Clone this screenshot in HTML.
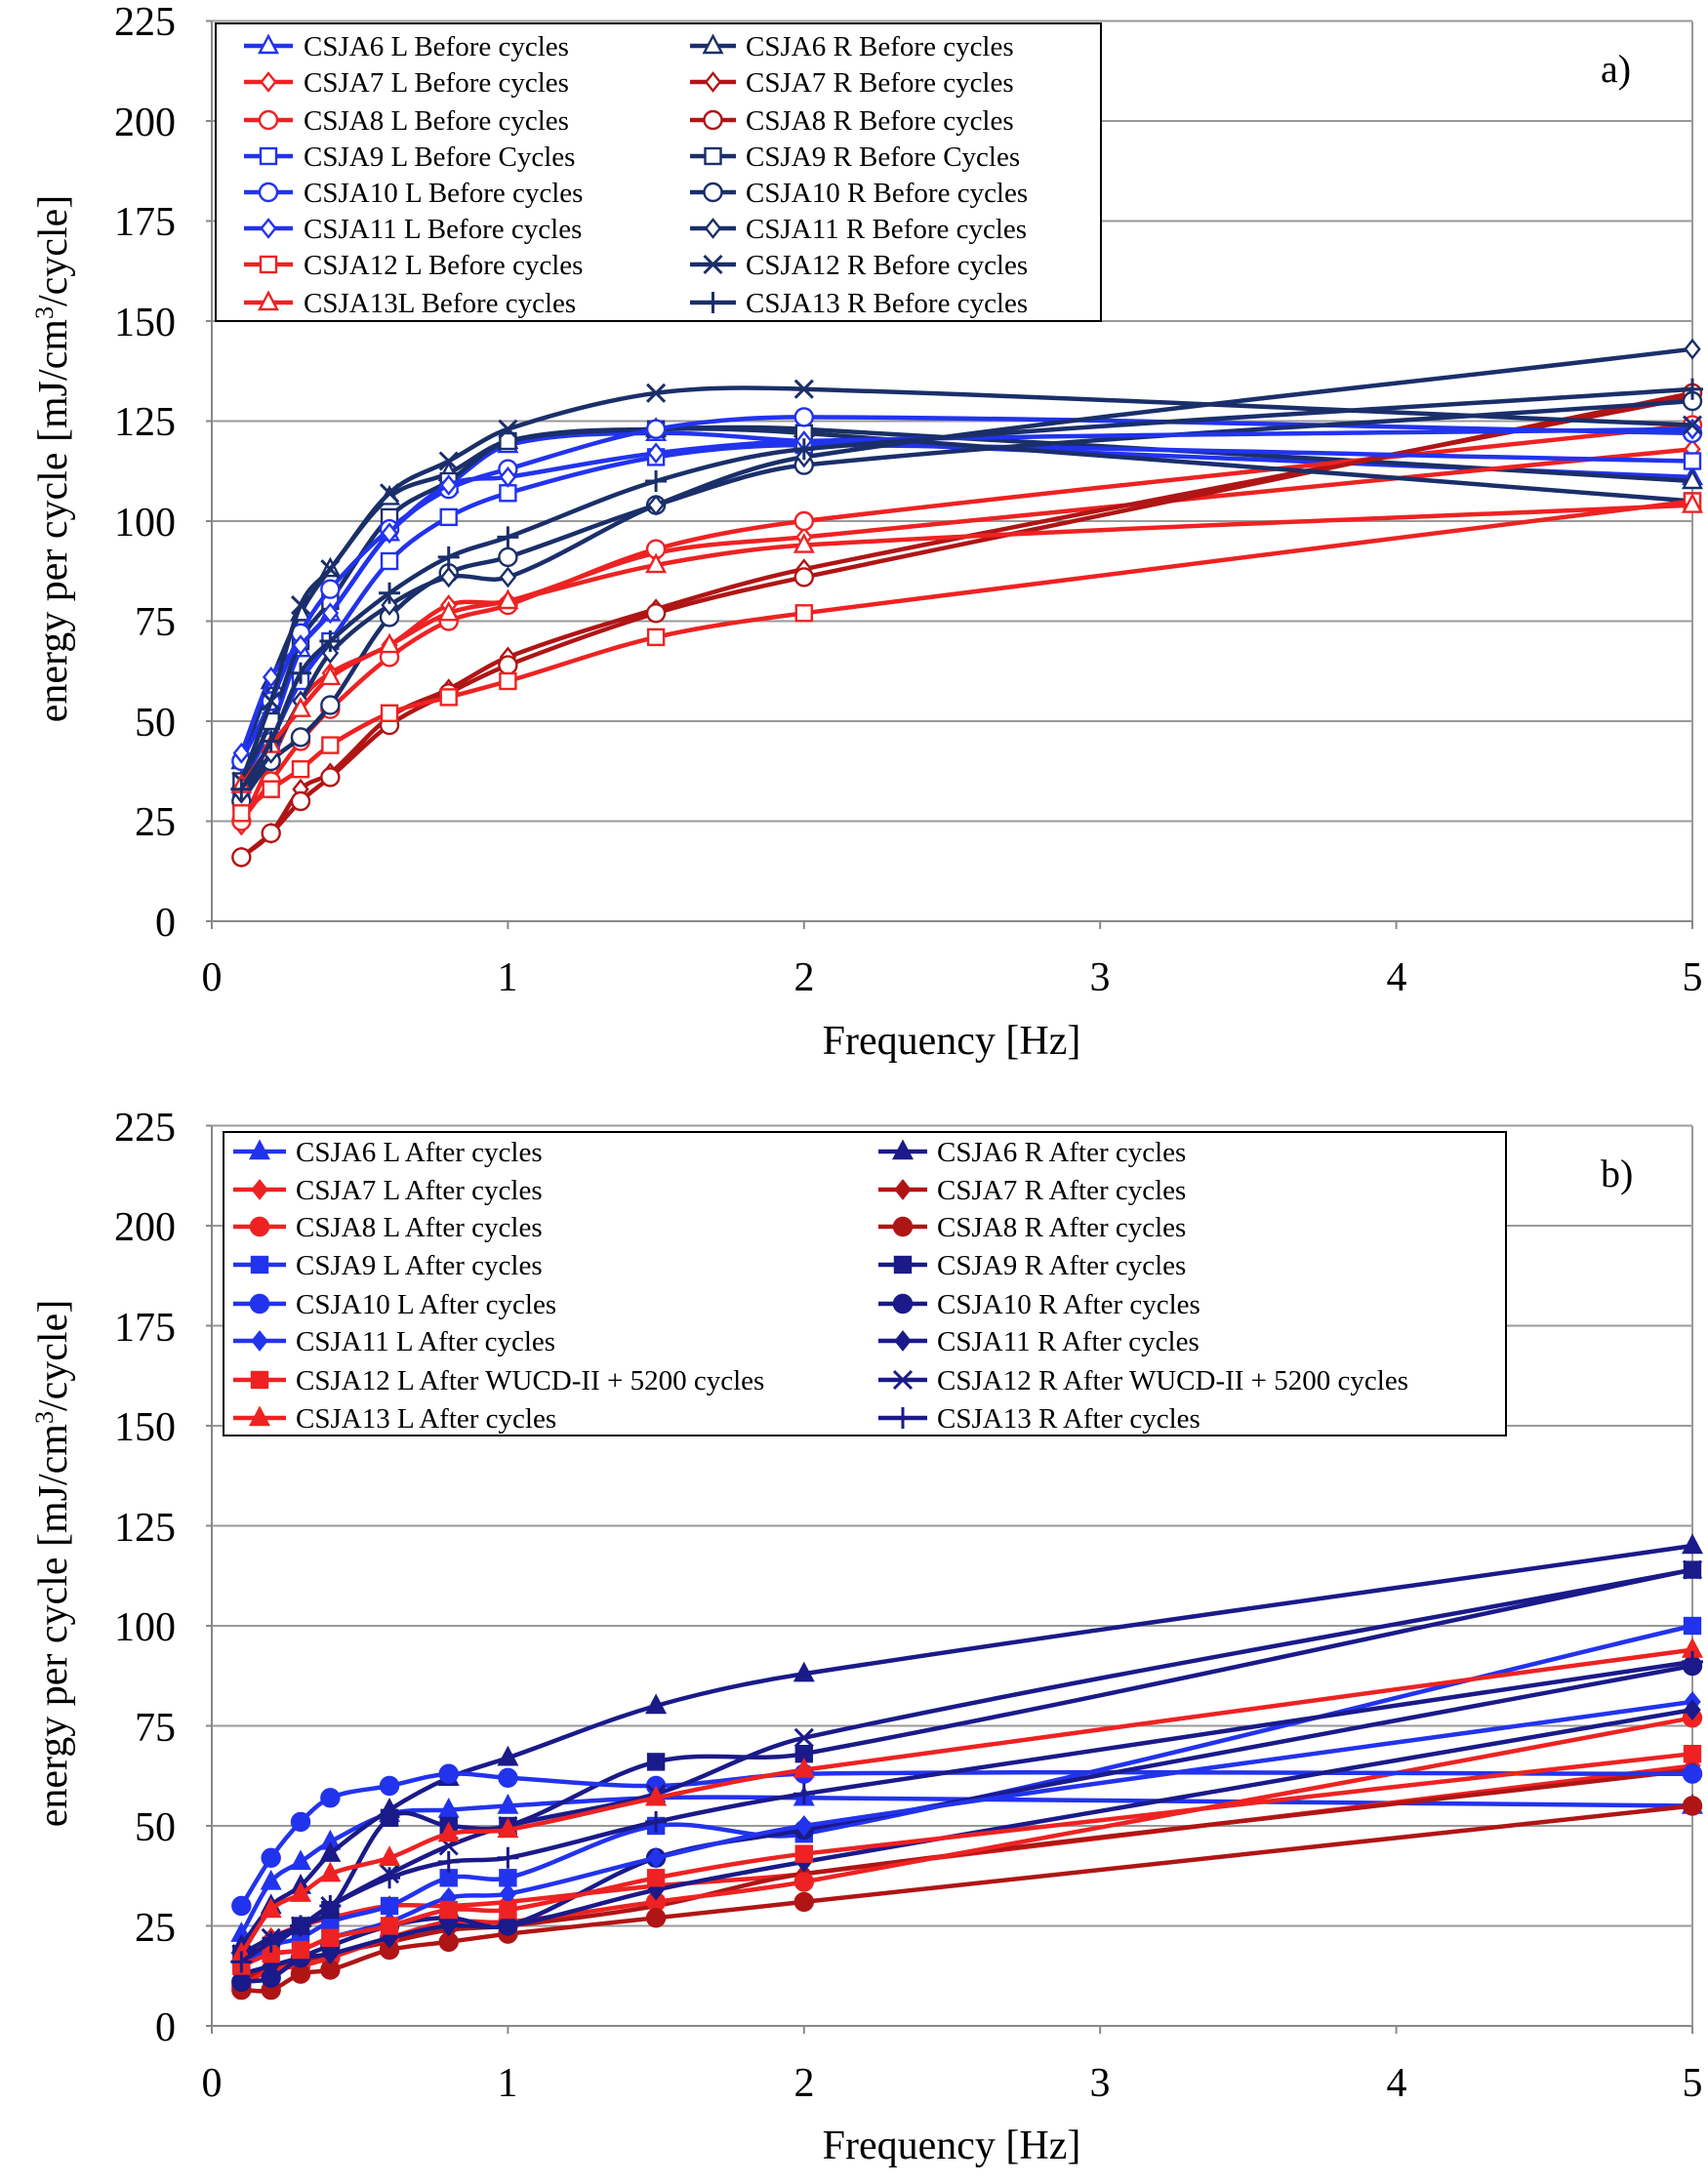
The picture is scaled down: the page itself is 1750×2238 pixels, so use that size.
<!DOCTYPE html>
<html><head><meta charset="utf-8"><style>
html,body{margin:0;padding:0;background:#fff}
svg{display:block}
text{font-family:"Liberation Serif",serif;fill:#000}
</style></head><body>
<svg id="s" width="1750" height="2238" viewBox="0 0 1750 2238" xmlns="http://www.w3.org/2000/svg">
<g id="grid"></g>
<g id="data"></g>
<g font-size="42" text-anchor="end">
<text x="180" y="36">225</text><text x="180" y="139">200</text><text x="180" y="241">175</text><text x="180" y="344">150</text><text x="180" y="446">125</text><text x="180" y="549">100</text><text x="180" y="651">75</text><text x="180" y="754">50</text><text x="180" y="856">25</text><text x="180" y="959">0</text>
<text x="180" y="1169">225</text><text x="180" y="1271">200</text><text x="180" y="1374">175</text><text x="180" y="1476">150</text><text x="180" y="1579">125</text><text x="180" y="1681">100</text><text x="180" y="1784">75</text><text x="180" y="1886">50</text><text x="180" y="1989">25</text><text x="180" y="2091">0</text>
</g>
<g font-size="42" text-anchor="middle">
<text x="217" y="1015">0</text><text x="520" y="1015">1</text><text x="824" y="1015">2</text><text x="1127" y="1015">3</text><text x="1431" y="1015">4</text><text x="1734" y="1015">5</text>
<text x="217" y="2148">0</text><text x="520" y="2148">1</text><text x="824" y="2148">2</text><text x="1127" y="2148">3</text><text x="1431" y="2148">4</text><text x="1734" y="2148">5</text>
<text x="975" y="1080">Frequency [Hz]</text>
<text x="975" y="2212">Frequency [Hz]</text>
</g>
<text font-size="42" transform="translate(68,470) rotate(-90)" text-anchor="middle">energy per cycle [mJ/cm<tspan font-size="26" dy="-14">3</tspan><tspan dy="14">/cycle]</tspan></text>
<text font-size="42" transform="translate(68,1602) rotate(-90)" text-anchor="middle">energy per cycle [mJ/cm<tspan font-size="26" dy="-14">3</tspan><tspan dy="14">/cycle]</tspan></text>
<text font-size="40" x="1640" y="84">a)</text>
<text font-size="40" x="1640" y="1216">b)</text>
<rect x="221" y="24" width="907" height="305" fill="#fff" stroke="#000" stroke-width="2"/>
<rect x="229" y="1160" width="1314" height="311" fill="#fff" stroke="#000" stroke-width="2"/>
<g id="leg"></g>
<g font-size="29">
<text x="311" y="57">CSJA6 L Before cycles</text><text x="764" y="57">CSJA6 R Before cycles</text>
<text x="311" y="94">CSJA7 L Before cycles</text><text x="764" y="94">CSJA7 R Before cycles</text>
<text x="311" y="133">CSJA8 L Before cycles</text><text x="764" y="133">CSJA8 R Before cycles</text>
<text x="311" y="170">CSJA9 L Before Cycles</text><text x="764" y="170">CSJA9 R Before Cycles</text>
<text x="311" y="207">CSJA10 L Before cycles</text><text x="764" y="207">CSJA10 R Before cycles</text>
<text x="311" y="244">CSJA11 L Before cycles</text><text x="764" y="244">CSJA11 R Before cycles</text>
<text x="311" y="281">CSJA12 L Before cycles</text><text x="764" y="281">CSJA12 R Before cycles</text>
<text x="311" y="320">CSJA13L Before cycles</text><text x="764" y="320">CSJA13 R Before cycles</text>
<text x="303" y="1190">CSJA6 L After cycles</text><text x="960" y="1190">CSJA6 R After cycles</text>
<text x="303" y="1229">CSJA7 L After cycles</text><text x="960" y="1229">CSJA7 R After cycles</text>
<text x="303" y="1267">CSJA8 L After cycles</text><text x="960" y="1267">CSJA8 R After cycles</text>
<text x="303" y="1306">CSJA9 L After cycles</text><text x="960" y="1306">CSJA9 R After cycles</text>
<text x="303" y="1346">CSJA10 L After cycles</text><text x="960" y="1346">CSJA10 R After cycles</text>
<text x="303" y="1384">CSJA11 L After cycles</text><text x="960" y="1384">CSJA11 R After cycles</text>
<text x="303" y="1424">CSJA12 L After WUCD-II + 5200 cycles</text><text x="960" y="1424">CSJA12 R After WUCD-II + 5200 cycles</text>
<text x="303" y="1463">CSJA13 L After cycles</text><text x="960" y="1463">CSJA13 R After cycles</text>
</g>
</svg>
<script>
(function(){
var NS="http://www.w3.org/2000/svg";
function el(p,t,a){var e=document.createElementNS(NS,t);for(var k in a)e.setAttribute(k,a[k]);p.appendChild(e);return e;}
var F=[0.1,0.2,0.3,0.4,0.6,0.8,1,1.5,2,5];
function X(f){return 217+f*303.4;}
var grid=document.getElementById('grid'),data=document.getElementById('data'),leg=document.getElementById('leg');
[944,2076].forEach(function(y0){
 for(var i=1;i<=9;i++){var y=y0-i*25*4.1;el(grid,'line',{x1:217,x2:1734,y1:y,y2:y,stroke:'#999','stroke-width':2});}
 el(grid,'line',{x1:1734,x2:1734,y1:y0-922,y2:y0,stroke:'#999','stroke-width':2});
 el(grid,'line',{x1:217,x2:217,y1:y0-922,y2:y0+6,stroke:'#888','stroke-width':2});
 el(grid,'line',{x1:211,x2:1734,y1:y0,y2:y0,stroke:'#888','stroke-width':2});
 for(var i=0;i<=9;i++)el(grid,'line',{x1:211,x2:217,y1:y0-i*102.5,y2:y0-i*102.5,stroke:'#888','stroke-width':2});
 for(var f=0;f<=5;f++)el(grid,'line',{x1:X(f),x2:X(f),y1:y0,y2:y0+8,stroke:'#888','stroke-width':2});
});
var B='#2233ee',N='#1a2f6a',N2='#1a1a8a',R='#ee2222',D='#b01515';
function marker(g,m,x,y,c,fill){var s=9,fc=fill?c:'#fff',sw=2.4;
 if(m=='tri')el(g,'polygon',{points:(x)+','+(y-s-1)+' '+(x-s)+','+(y+s-2)+' '+(x+s)+','+(y+s-2),fill:fc,stroke:c,'stroke-width':sw});
 else if(m=='dia')el(g,'polygon',{points:x+','+(y-s)+' '+(x+s*0.8)+','+y+' '+x+','+(y+s)+' '+(x-s*0.8)+','+y,fill:fc,stroke:c,'stroke-width':sw});
 else if(m=='cir')el(g,'circle',{cx:x,cy:y,r:s,fill:fc,stroke:c,'stroke-width':sw});
 else if(m=='sq')el(g,'rect',{x:x-s+1,y:y-s+1,width:2*s-2,height:2*s-2,fill:fc,stroke:c,'stroke-width':sw});
 else if(m=='x'){el(g,'path',{d:'M'+(x-s)+' '+(y-s)+'L'+(x+s)+' '+(y+s)+'M'+(x-s)+' '+(y+s)+'L'+(x+s)+' '+(y-s),stroke:c,'stroke-width':sw+0.6});}
 else if(m=='plus'){el(g,'path',{d:'M'+(x-s-2)+' '+y+'L'+(x+s+2)+' '+y+'M'+x+' '+(y-s-2)+'L'+x+' '+(y+s+2),stroke:c,'stroke-width':sw+0.6});}
}
function smooth(p){var n=p.length,m=[];
 for(var i=0;i<n;i++){var a=p[Math.max(0,i-1)],b=p[Math.min(n-1,i+1)];m.push((b[1]-a[1])/(b[0]-a[0]));}
 var d='M'+p[0][0]+' '+p[0][1];
 for(var i=0;i<n-1;i++){var dx=(p[i+1][0]-p[i][0])/3;
  d+=' C'+(p[i][0]+dx)+' '+(p[i][1]+m[i]*dx)+' '+(p[i+1][0]-dx)+' '+(p[i+1][1]-m[i+1]*dx)+' '+p[i+1][0]+' '+p[i+1][1];}
 return d;}
function series(y0,v,c,m,fill){var pts=v.map(function(a,i){return [X(F[i]),y0-a*4.1];});
 el(data,'path',{d:smooth(pts),fill:'none',stroke:c,'stroke-width':4.5,'stroke-linejoin':'round'});
 pts.forEach(function(p){marker(data,m,p[0],p[1],c,fill);});}
var TOPS=[
[[35,48,68,77,97,109,119,122,120,111],B,'tri'],
[[40,60,77,88,106,112,120,123,123,110],N,'tri'],
[[24,40,55,62,69,79,80,92,96,118],R,'dia'],
[[16,22,33,37,51,58,66,78,88,131],D,'dia'],
[[25,35,45,53,66,75,79,93,100,124],R,'cir'],
[[16,22,30,36,49,57,64,77,86,132],D,'cir'],
[[30,45,60,70,90,101,107,116,119,115],B,'sq'],
[[35,50,70,80,101,110,120,123,122,105],N,'sq'],
[[40,55,72,83,98,108,113,123,126,122],B,'cir'],
[[30,40,46,54,76,87,91,104,114,130],N,'cir'],
[[42,61,69,77,97,109,111,117,120,123],B,'dia'],
[[32,42,55,67,79,86,86,104,116,143],N,'dia'],
[[27,33,38,44,52,56,60,71,77,105],R,'sq'],
[[35,55,79,88,107,115,123,132,133,124],N,'x'],
[[34,44,53,61,69,77,80,89,94,104],R,'tri'],
[[33,45,62,70,82,91,96,110,118,133],N,'plus']];
var BOTS=[
[[23,36,41,46,53,54,55,57,57,55],B,'tri'],
[[20,30,35,43,54,62,67,80,88,120],N2,'tri'],
[[17,22,25,27,30,30,31,35,38,65],R,'dia'],
[[12,14,16,18,21,24,25,30,38,64],D,'dia'],
[[10,14,15,17,22,26,26,31,36,77],R,'cir'],
[[9,9,13,14,19,21,23,27,31,55],D,'cir'],
[[15,20,22,26,30,37,37,50,48,100],B,'sq'],
[[18,20,25,29,52,50,50,66,68,114],N2,'sq'],
[[30,42,51,57,60,63,62,60,63,63],B,'cir'],
[[11,12,17,20,25,27,25,42,49,90],N2,'cir'],
[[16,18,19,22,26,32,33,42,50,81],B,'dia'],
[[13,15,17,18,22,25,25,34,41,79],N2,'dia'],
[[15,18,19,22,25,29,29,37,43,68],R,'sq'],
[[18,22,25,30,38,45,50,58,72,114],N2,'x'],
[[18,29,33,38,42,48,49,57,64,94],R,'tri'],
[[16,21,25,30,37,41,42,51,58,91],N2,'plus']];
TOPS.forEach(function(s){series(944,s[0],s[1],s[2],false);});
BOTS.forEach(function(s){series(2076,s[0],s[1],s[2],true);});
var ty=[47,84,123,160,197,234,271,310],by=[1180,1219,1257,1296,1336,1374,1414,1453];
TOPS.forEach(function(s,i){var r=i>>1,col=i&1;var x1=col?707:250,x2=col?754:300,y=ty[r];
 el(leg,'line',{x1:x1,x2:x2,y1:y,y2:y,stroke:s[1],'stroke-width':4.5});marker(leg,s[2],(x1+x2)/2,y,s[1],false);});
BOTS.forEach(function(s,i){var r=i>>1,col=i&1;var x1=col?900:239,x2=col?950:293,y=by[r];
 el(leg,'line',{x1:x1,x2:x2,y1:y,y2:y,stroke:s[1],'stroke-width':4.5});marker(leg,s[2],(x1+x2)/2,y,s[1],true);});
})();
</script>
</body></html>
